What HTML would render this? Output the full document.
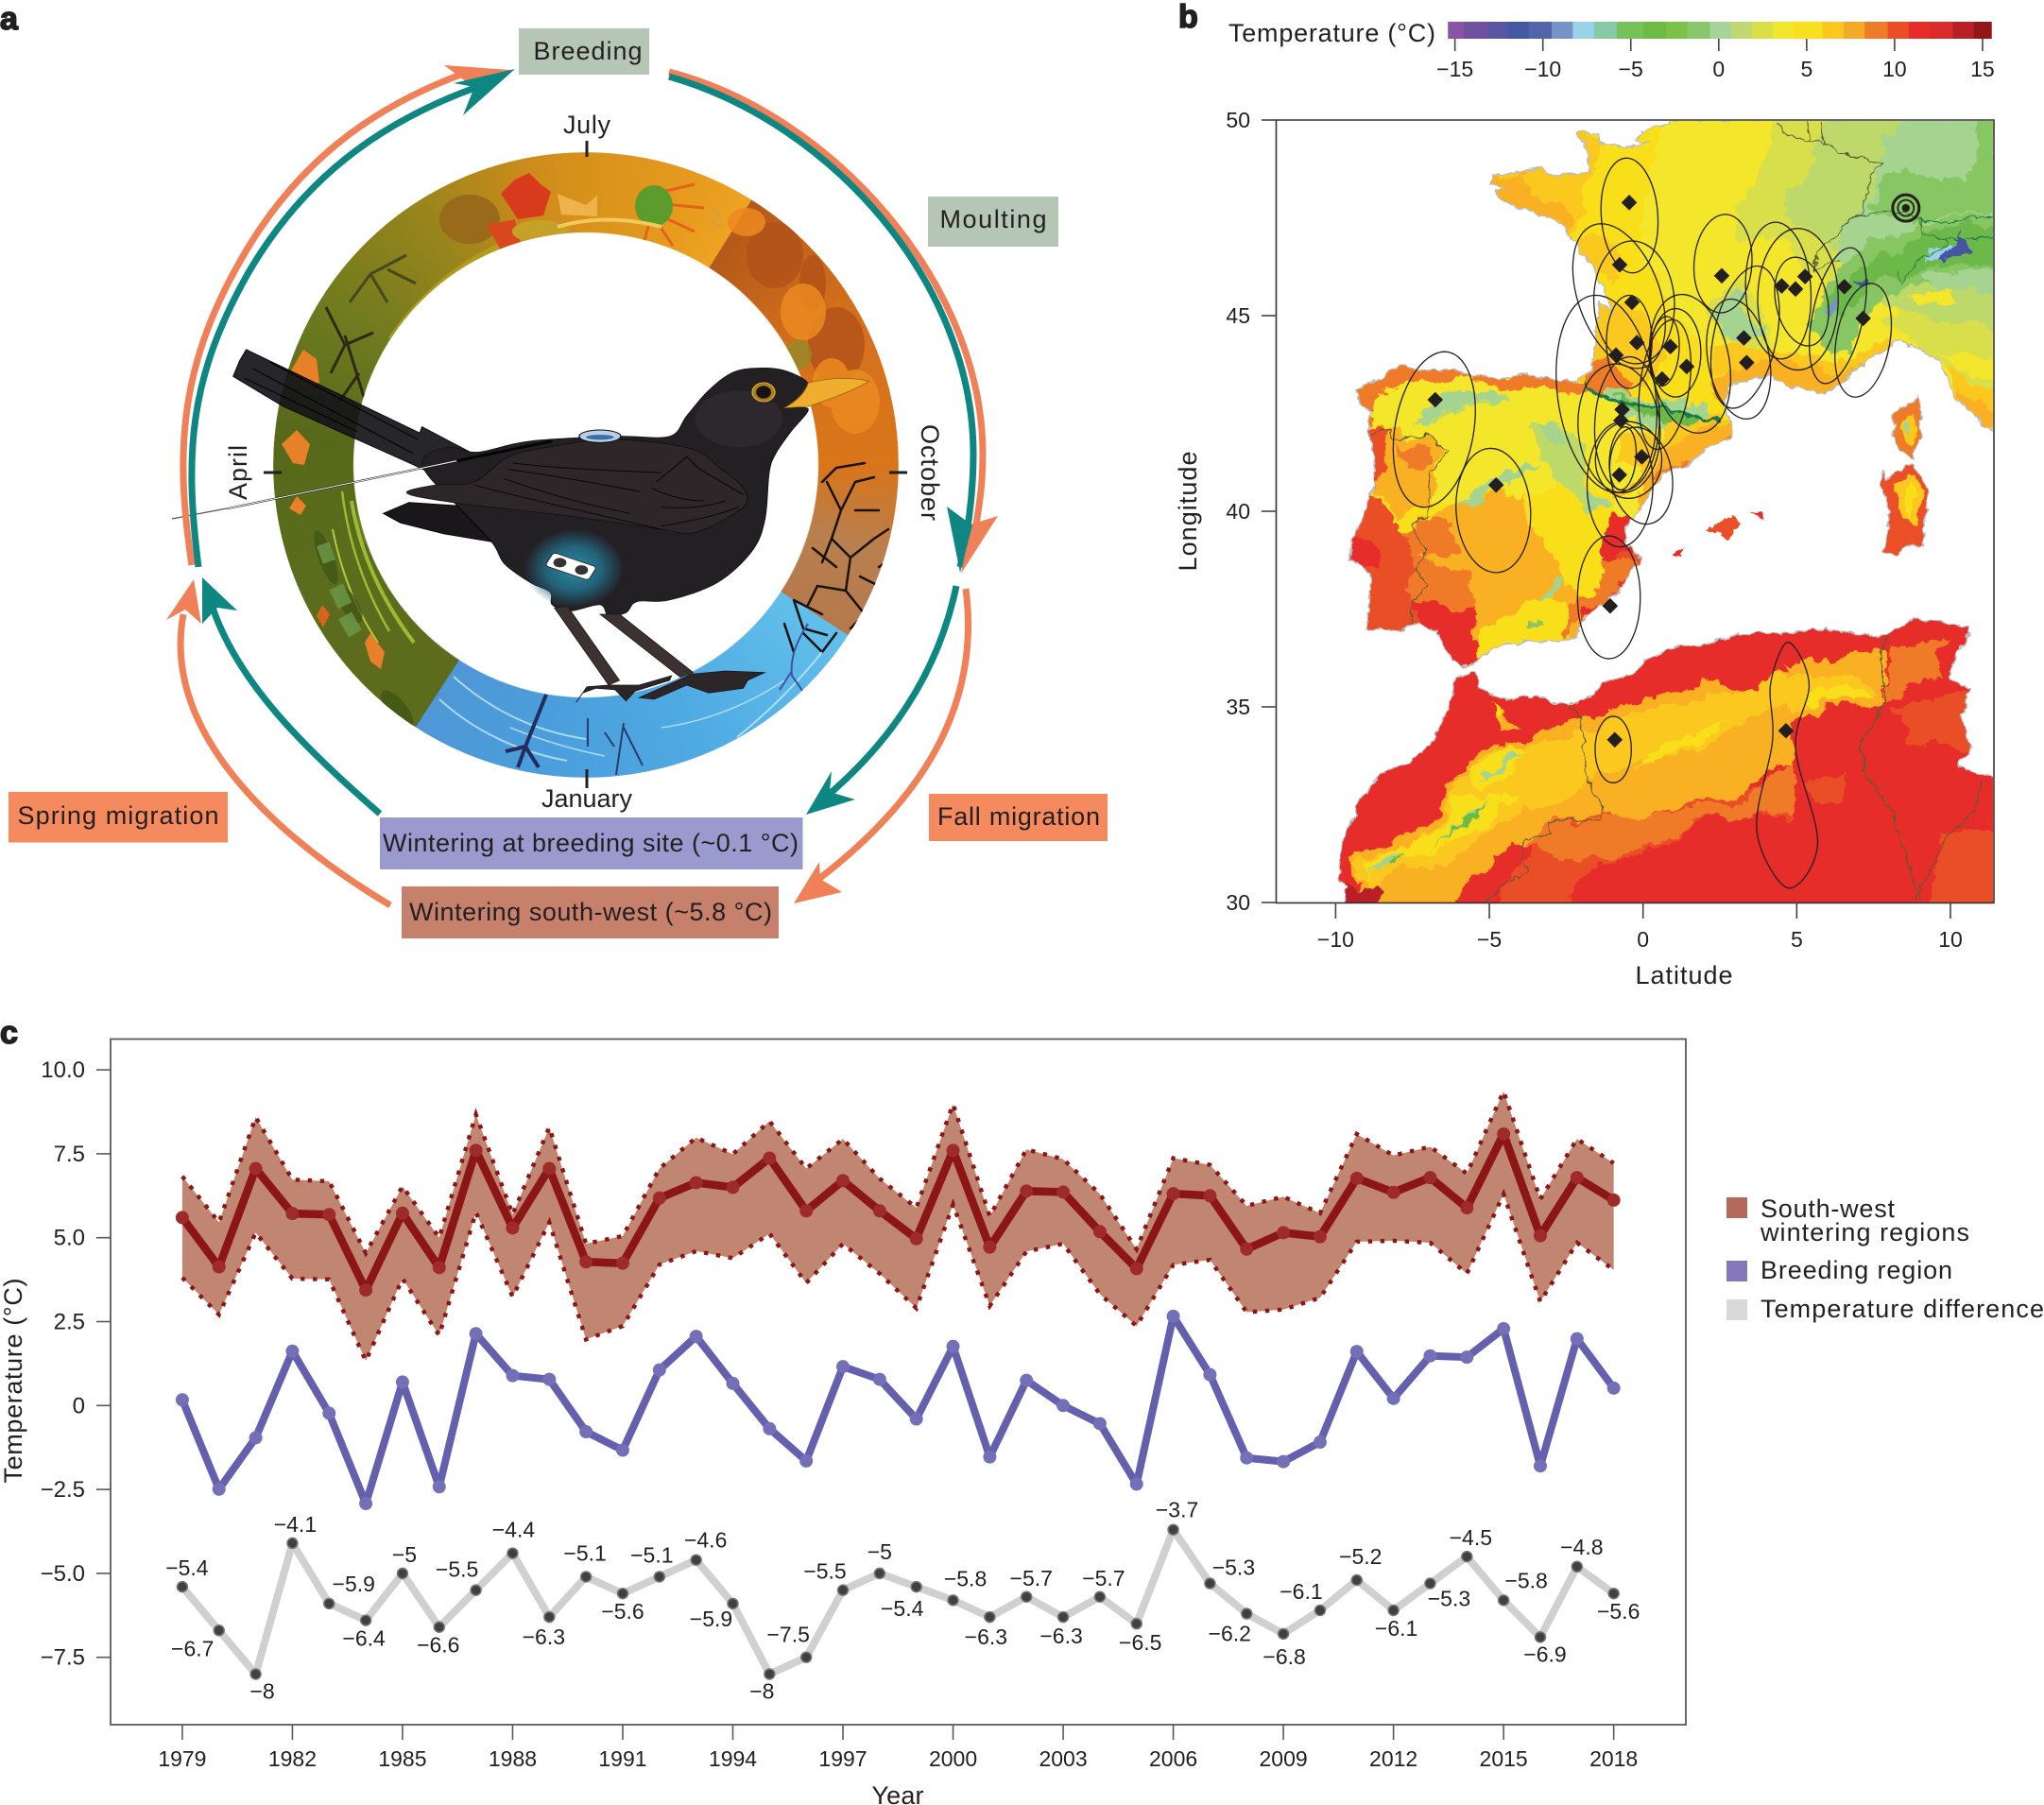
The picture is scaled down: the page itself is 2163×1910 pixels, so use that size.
<!DOCTYPE html>
<html lang="en">
<head>
<meta charset="utf-8">
<title>Blackbird migration and temperature</title>
<style>
html,body{margin:0;padding:0;background:#fff;}
#stage{position:relative;width:2163px;height:1910px;overflow:hidden;background:#fff;font-family:"Liberation Sans",sans-serif;}
#ring{position:absolute;left:289px;top:161px;width:662px;height:662px;border-radius:50%;
background:conic-gradient(from 0deg,#d8921c 0deg,#e69a1e 20deg,#eea322 32deg,#b4591a 32deg,#d4701c 60deg,#d9751a 90deg,#c47a3a 100deg,#b9804f 106deg,#b5794c 123deg,#62bfea 123deg,#4fa9e2 160deg,#4a9fdc 185deg,#4f97d6 213deg,#5d6c1c 213deg,#5a6d1c 250deg,#56691a 275deg,#6d7a1f 300deg,#9a851c 328deg,#cf8c1a 350deg,#d8921c 360deg);
-webkit-mask:radial-gradient(circle,transparent 245.5px,#000 246.5px,#000 330.5px,transparent 331.5px);
mask:radial-gradient(circle,transparent 245.5px,#000 246.5px,#000 330.5px,transparent 331.5px);}
svg{position:absolute;left:0;top:0;}
text{font-family:"Liberation Sans",sans-serif;fill:#231f20;}
.pl{font-size:34px;font-weight:700;stroke:#231f20;stroke-width:1.6px;}
.t27{font-size:27px;}
.t23{font-size:23px;}
.t24{font-size:24px;}
.dl{font-size:23px;}
</style>
</head>
<body>
<div id="stage">
<div id="ring"></div>
<svg id="fig" width="2163" height="1910" viewBox="0 0 2163 1910" xmlns="http://www.w3.org/2000/svg">
<defs>
<clipPath id="ringClip"><path clip-rule="evenodd" d="M289,492a331,331 0 1,0 662,0a331,331 0 1,0 -662,0ZM374,492a246,246 0 1,0 492,0a246,246 0 1,0 -492,0Z"/></clipPath>
<path id="euCoast" d="M1767,127L1767,130L1737,140L1733,148L1745,150L1728,157L1700,153L1693,153L1690,142L1670,141L1677,153L1683,170L1683,183L1663,185L1647,188L1630,177L1617,180L1600,183L1580,188L1580,195L1595,198L1583,203L1587,210L1600,217L1620,223L1640,228L1650,235L1660,243L1667,253L1672,267L1687,283L1693,297L1700,313L1710,333L1693,320L1690,347L1687,383L1685,388L1670,405L1647,403L1617,397L1587,402L1560,397L1543,393L1500,393L1487,387L1467,395L1465,400L1447,407L1435,415L1440,427L1452,435L1447,447L1450,460L1455,487L1455,513L1445,540L1432,573L1430,593L1442,600L1450,607L1450,633L1447,665L1480,667L1497,659L1523,667L1530,687L1547,707L1560,700L1577,687L1587,680L1613,678L1647,678L1667,675L1673,657L1693,640L1710,627L1728,602L1737,592L1720,577L1720,557L1733,540L1750,517L1760,500L1787,490L1807,473L1832,463L1833,450L1827,437L1825,417L1833,407L1853,400L1877,398L1880,403L1903,410L1930,417L1953,400L1973,383L1993,370L2010,359L2033,370L2053,383L2063,407L2070,420L2087,437L2110,458L2110,127Z"/>
<path id="afCoast" d="M1423,975L1425,940L1417,930L1420,893L1433,867L1437,850L1457,823L1490,807L1513,790L1530,760L1543,717L1560,712L1565,728L1590,742L1613,738L1633,738L1643,745L1667,745L1687,735L1695,723L1728,715L1740,700L1763,687L1807,682L1827,675L1853,670L1883,672L1931,666L1992,676L2023,656L2060,659L2083,666L2060,717L2085,730L2075,757L2085,791L2072,811L2125,828L2125,975Z"/>
<clipPath id="euClip"><use href="#euCoast"/></clipPath>
<clipPath id="afClip"><use href="#afCoast"/></clipPath>
<filter id="rough" filterUnits="userSpaceOnUse" x="1280" y="60" width="900" height="960" color-interpolation-filters="sRGB">
<feTurbulence type="fractalNoise" baseFrequency="0.028" numOctaves="4" seed="5"/>
<feDisplacementMap in="SourceGraphic" scale="30" xChannelSelector="R" yChannelSelector="G"/>
</filter>
<filter id="coastRough" filterUnits="userSpaceOnUse" x="1352" y="128" width="757" height="827" color-interpolation-filters="sRGB">
<feTurbulence type="fractalNoise" baseFrequency="0.09" numOctaves="3" seed="9"/>
<feDisplacementMap in="SourceGraphic" scale="9" xChannelSelector="R" yChannelSelector="G"/>
</filter>
<radialGradient id="tealGlow" cx="50%" cy="50%" r="50%"><stop offset="0" stop-color="#2b8ba3"/><stop offset=".55" stop-color="#23637a"/><stop offset="1" stop-color="#23637a" stop-opacity="0"/></radialGradient>
</defs>

<!-- panel a -->
<g id="panel-a">
<text class="pl" x="0" y="31">a</text>

<g clip-path="url(#ringClip)">
 <!-- inner lighter bands -->
 <g fill="none">
  <path d="M388,575Q375,490 410,400" stroke="#74891f" stroke-width="14" opacity=".6"/>
  <path d="M415,360Q470,280 560,250" stroke="#b9a41f" stroke-width="10" opacity=".7"/>
 </g>
 <!-- green streaks -->
 <g fill="none" stroke="#a9c83a" stroke-width="4" opacity=".85">
  <path d="M372,530Q385,610 438,680"/><path d="M362,520Q372,600 412,668" stroke-width="2.5"/><path d="M352,560Q366,630 400,680" stroke="#c4d94a" stroke-width="2"/>
 </g>
 <g fill="#3f5414" opacity=".75"><ellipse cx="345" cy="590" rx="8" ry="30" transform="rotate(-20 345 590)"/><ellipse cx="370" cy="640" rx="9" ry="22" transform="rotate(-30 370 640)"/><ellipse cx="420" cy="750" rx="10" ry="24" transform="rotate(-40 420 750)"/></g>
 <g fill="#6d9a4a" opacity=".8"><rect x="338" y="575" width="14" height="20" transform="rotate(-20 345 585)"/><rect x="352" y="620" width="16" height="22" transform="rotate(-25 360 630)"/><rect x="362" y="650" width="16" height="22" transform="rotate(-30 370 660)"/></g>
 <!-- left leaves -->
 <g fill="#e8802a">
  <polygon points="321,370 335,380 338,405 322,410 308,392"/>
  <polygon points="314,455 328,470 322,492 310,490 298,470"/>
  <polygon points="314,525 324,535 318,545 306,538"/>
  <polygon points="341,640 349,650 342,664 335,652" fill="#d9621d"/>
  <polygon points="392,670 407,690 403,708 392,700 386,680"/>
 </g>
 <!-- dark twigs -->
 <g fill="none" stroke="#2c2a12" stroke-width="3">
  <path d="M345,325L365,365L350,395M365,365L395,352M365,355L385,420M380,395L345,445"/>
  <path d="M370,320L392,290L430,270M392,290L410,320M410,285L440,300" stroke="#46491a"/>
 </g>
 <!-- top cluster -->
 <ellipse cx="497" cy="232" rx="32" ry="26" fill="#9a6a1b"/>
 <polygon points="530,205 545,190 560,183 572,195 583,203 575,228 548,232" fill="#d83a1d"/>
 <polygon points="515,238 545,232 552,262 530,265" fill="#d9481d"/>
 <ellipse cx="572" cy="245" rx="30" ry="12" fill="#c6a12a"/>
 <path d="M590,205l30,12l12,-10l0,22l-38,-2z" fill="#f0b24a"/>
 <g fill="none" stroke="#e2641c" stroke-width="3"><path d="M692,205L735,195M692,215L745,220M692,225L735,245M692,230L712,260M688,232L680,262"/></g>
 <ellipse cx="692" cy="218" rx="20" ry="22" fill="#5d9c2c"/>
 <path d="M590,240Q640,225 700,240" stroke="#f4c85a" stroke-width="4" fill="none"/>
 <path d="M752,220l10,6l-8,10l10,4" stroke="#d6a03a" stroke-width="3" fill="none"/>
 <!-- foliage -->
 <g fill="#b2501a" opacity=".8"><ellipse cx="820" cy="270" rx="30" ry="35"/><ellipse cx="885" cy="365" rx="30" ry="40"/><ellipse cx="860" cy="300" rx="14" ry="30"/></g>
 <g fill="#ec8a20" opacity=".85"><ellipse cx="850" cy="330" rx="24" ry="30"/><ellipse cx="905" cy="425" rx="26" ry="34"/><ellipse cx="880" cy="405" rx="20" ry="26"/><ellipse cx="790" cy="235" rx="20" ry="15"/></g>
 <ellipse cx="845" cy="375" rx="14" ry="16" fill="#8a8f2a" opacity=".7"/>
 <!-- bare tree -->
 <g fill="none" stroke="#1a120c" stroke-width="2.5" stroke-linecap="round">
  <path d="M875,510L890,540L905,510L925,505M890,540L880,570L900,590L925,570L940,560M880,570L870,595M900,590L895,625L915,650L925,630M895,625L865,620L855,640M915,650L900,665"/>
  <path d="M905,540L930,540M885,600L860,580M870,650L840,635M840,635L850,665L875,672M930,600L945,590M910,610L940,625M870,510L885,495L915,490"/>
  <path d="M850,670L870,690L885,670M830,660L840,690M895,690L905,660"/>
 </g>
 <!-- water -->
 <g fill="none" stroke="#cdebf8" stroke-width="2" opacity=".75">
  <path d="M480,716Q540,770 620,782"/><path d="M465,740Q520,790 600,805"/><path d="M780,780Q830,740 870,690"/><path d="M700,770Q770,760 830,720" stroke-width="1.5"/><path d="M540,770Q590,790 640,800" stroke-width="1.5"/>
 </g>
 <path d="M578,735L556,790M556,790L535,795M556,790L548,812M556,790L570,812" stroke="#232c5e" stroke-width="4" fill="none"/>
 <path d="M660,765L652,820M660,770L680,810M650,790L640,775M622,760L622,790" stroke="#2f3a6e" stroke-width="2" fill="none"/>
 <path d="M855,660Q835,690 838,715L852,735M838,710L825,730" stroke="#3c55a0" stroke-width="2" fill="none"/>
</g>

<g stroke="#231f20" stroke-width="3">
 <path d="M621,149V166M621,814V834M279,500H298M941,500H960"/>
</g>
<text class="t27" x="621" y="141" text-anchor="middle" textLength="50">July</text>
<text class="t27" x="621" y="854" text-anchor="middle" textLength="96">January</text>
<text class="t27" transform="translate(261,500) rotate(-90)" text-anchor="middle" textLength="58">April</text>
<text class="t27" transform="translate(975,500) rotate(90)" text-anchor="middle" textLength="102">October</text>

<!-- bird -->
<g transform="translate(240,350) scale(.4592,.3333)">
 <polygon points="45,60 30,95 15,145 130,240 300,345 430,425 475,455 560,385 450,305 445,325" fill="#17161a" opacity=".93" stroke="#000" stroke-width="3"/>
 <path d="M60,120L430,390M40,150L300,320M100,100L440,345" stroke="#000" stroke-width="3" fill="none"/>
 <path id="birdBody" fill="#232024" stroke="#111" stroke-width="2"/>
 <ellipse cx="1180" cy="280" rx="100" ry="90" fill="#332f33" opacity=".6"/>
 <polygon points="360,580 420,545 530,555 610,670 500,645 400,610" fill="#191719" stroke="#000" stroke-width="2"/>
 <path id="birdWing" fill="#2d2729" stroke="#0d0b0c" stroke-width="2"/>
 <g fill="none" stroke="#0a0808" stroke-width="3">
  <path d="M660,420Q780,440 1000,450M650,440Q800,470 950,510M640,470Q780,540 930,580M570,490Q650,520 1000,630M990,480L1060,400L1090,440L1190,520M980,500Q1040,540 1100,540M1000,560Q1080,570 1150,540M1000,620Q1100,600 1180,560"/>
 </g>
 <ellipse cx="800" cy="755" rx="115" ry="125" fill="url(#tealGlow)"/>
 <g transform="rotate(25 793 748)">
  <rect x="738" y="725" width="110" height="46" rx="8" fill="#fff" stroke="#111" stroke-width="2"/>
  <circle cx="765" cy="748" r="15" fill="#333"/><circle cx="820" cy="748" r="15" fill="#333"/>
 </g>
 <polygon points="755,880 785,875 905,1110 880,1125" fill="#3d3232" stroke="#1c1617" stroke-width="2"/>
 <polygon points="860,900 905,900 1075,1085 1045,1100" fill="#3d3232" stroke="#1c1617" stroke-width="2"/>
 <path d="M805,1180L830,1130L880,1125L950,1125L1025,1095L1020,1110L940,1145L920,1175L895,1140L850,1135L820,1150Z" fill="#2c2628" stroke="#111" stroke-width="2"/>
 <path d="M950,1165L1040,1110L1070,1090L1150,1080L1240,1085L1200,1110L1190,1135L1110,1150L1060,1125L985,1170Z" fill="#2c2628" stroke="#111" stroke-width="2"/>
 <path d="M1340,165Q1420,140 1480,160Q1440,195 1340,240L1285,245Q1330,210 1340,165Z" fill="#f0ae2e" stroke="#8a5a10" stroke-width="2"/>
 <ellipse cx="1237" cy="195" rx="26" ry="30" fill="#a67c1e" stroke="#e0a830" stroke-width="3"/>
 <ellipse cx="1237" cy="195" rx="17" ry="20" fill="#141214"/>
 <ellipse cx="860" cy="335" rx="48" ry="20" fill="#b6cfe6" stroke="#111" stroke-width="3"/>
 <ellipse cx="860" cy="338" rx="32" ry="8" fill="#3c6ea6"/>
 <path d="M530,413L0,565" stroke="#111" stroke-width="6"/>
 <path d="M530,413L0,565" stroke="#fff" stroke-width="3"/>
 <path d="M530,413L750,350" stroke="#050505" stroke-width="9"/>
</g>
<path d="M240,538L182,549" stroke="#555" stroke-width="1.2"/>

<!-- arrows -->
<g fill="none" stroke-width="7">
 <path d="M203,598C185,480 190,390 252,280C310,175 390,115 490,78" stroke="#f08057"/>
 <path d="M210,600C195,480 200,400 262,290C320,190 400,130 505,92" stroke="#0e8783"/>
 <path d="M708,76C880,120 1040,300 1040,480C1040,510 1037,530 1033,555" stroke="#f08057"/>
 <path d="M708,81C880,130 1030,300 1030,480C1030,520 1025,560 1016,600" stroke="#0e8783"/>
 <path d="M1012,620Q985,750 872,845" stroke="#0e8783"/>
 <path d="M1022,623C1040,760 960,860 860,935" stroke="#f08057"/>
 <path d="M402,861C320,790 250,720 224,640" stroke="#0e8783"/>
 <path d="M413,958C300,890 170,780 194,650" stroke="#f08057"/>
</g>
<g>
 <polygon points="470,69 540,74 498,90" fill="#f08057"/>
 <polygon points="545,73 490,122 502,92 480,88" fill="#0e8783"/>
 <polygon points="1056,546 1017,607 1027,555" fill="#f08057"/>
 <polygon points="1016,606 1002,536 1029,556" fill="#0e8783"/>
 <polygon points="853,862 880,816 878,838 905,846" fill="#0e8783"/>
 <polygon points="840,956 867,912 868,930 891,944" fill="#f08057"/>
 <polygon points="214,611 214,660 230,643 251,646" fill="#0e8783"/>
 <polygon points="205,613 176,656 196,645 213,660" fill="#f08057"/>
</g>
<g>
 <rect x="549" y="30" width="138" height="49" fill="#b5c7b4"/>
 <text class="t27" x="622" y="63" text-anchor="middle" textLength="115">Breeding</text>
 <rect x="982" y="208" width="138" height="53" fill="#b5c7b4"/>
 <text class="t27" x="1051" y="241" text-anchor="middle" textLength="113">Moulting</text>
 <rect x="9" y="838" width="232" height="53.500" fill="#f58a5f"/>
 <text class="t27" x="125" y="872" text-anchor="middle" textLength="213">Spring migration</text>
 <rect x="983" y="840" width="189" height="50" fill="#f58a5f"/>
 <text class="t27" x="1078" y="873" text-anchor="middle" textLength="172">Fall migration</text>
 <rect x="402" y="865" width="447.500" height="55" fill="#9a9acf"/>
 <text class="t27" x="625" y="901" text-anchor="middle" textLength="440">Wintering at breeding site (~0.1 °C)</text>
 <rect x="425" y="938" width="399" height="55" fill="#c7806b"/>
 <text class="t27" x="625" y="974" text-anchor="middle" textLength="384">Wintering south-west (~5.8 °C)</text>
</g>
</g>

<!-- panel b -->
<g id="panel-b">
<text class="pl" x="1247" y="29">b</text>
<text class="t27" x="1300" y="44" textLength="219">Temperature (°C)</text>
<g id="colorbar"></g>

<g>
<g filter="url(#coastRough)">
 <use href="#euCoast" fill="none" stroke="#bdbdbd" stroke-width="3"/>
 <use href="#afCoast" fill="none" stroke="#bdbdbd" stroke-width="3"/>
 <g clip-path="url(#euClip)">
 <g filter="url(#rough)">
  <rect x="1300" y="90" width="860" height="640" fill="#f3e62b"/>
  <g transform="translate(1400,120) scale(.33333)">
   <polygon fill="#f9df1a" points="500,100 1100,20 1000,300 1080,600 1250,800 1300,900 1270,1000 1000,900 700,700 500,400"/>
   <polygon fill="#fbc81f" points="480,180 800,30 880,100 860,200 800,330 790,400 650,400 480,320"/>
   <polygon fill="#f9b022" points="500,200 640,190 700,280 780,310 780,370 640,320 500,260"/>
   <polygon fill="#fbc81f" points="830,560 940,600 1040,640 1080,780 1050,860 930,860 810,830"/>
   <polygon fill="#fbc81f" points="780,400 850,390 960,480 900,520 800,460"/>
   <polygon fill="#ef7b28" points="810,850 920,810 1010,850 960,880 860,880"/>
   <polygon fill="#f9df1a" points="200,1200 800,1100 950,1300 1030,1700 60,1700"/>
   <polygon fill="#f3e62b" points="360,900 800,900 850,1100 700,1200 400,1230 240,1240 180,1060"/>
   <polygon fill="#f9b022" points="280,1300 420,1240 640,1210 660,1300 720,1420 800,1500 900,1700 200,1700"/>
   <polygon fill="#ef7b28" points="270,1310 330,1280 420,1300 430,1500 500,1700 130,1700"/>
   <polygon fill="#e94e27" points="60,1430 120,1250 150,1180 210,1260 275,1310 300,1500 330,1700 80,1700"/>
   <polygon fill="#e62d29" points="60,1430 90,1340 170,1380 170,1500 150,1700 60,1700"/>
   <polygon fill="#f9b022" points="130,1000 215,1020 340,1040 395,1075 340,1130 340,1250 230,1270 170,1180 130,1080"/>
   <polygon fill="#ef7b28" points="250,1050 330,1060 330,1130 270,1130"/>
   <polygon fill="#e94e27" points="120,1000 200,1020 190,1180 140,1180"/>
   <polygon fill="#ef7b28" points="80,885 200,800 260,780 300,800 440,800 560,820 650,810 740,830 820,840 900,790 960,860 1000,900 900,880 820,880 740,880 650,860 560,870 450,845 300,850 200,880 150,950 160,1000 120,990"/>
   <polygon fill="#bcd96a" points="640,1000 750,980 830,1060 830,1200 900,1250 850,1290 780,1200 700,1100"/>
   <polygon fill="#a5d491" points="680,990 750,1000 790,1050 700,1030"/>
   <polygon fill="#a5d491" points="800,1180 850,1190 900,1260 860,1280"/>
   <polygon fill="#a5d491" points="440,1240 640,1110 680,1120 500,1240"/>
   <polygon fill="#bcd96a" points="300,990 380,900 590,880 590,910 430,940 360,1010"/>
   <polygon fill="#a5d491" points="380,895 540,880 590,900 430,925 340,1000 290,1000"/>
   <polygon fill="#a5d491" points="880,880 1040,900 1220,940 1250,985 1130,1010 1000,980"/>
   <polygon fill="#6cb94a" points="920,905 1040,915 1200,950 1200,970 1100,985 1000,950"/>
   <polygon fill="#f9b022" points="900,1230 1040,1180 1060,1130 1000,1180 920,1200"/>
  </g>
  <g transform="translate(1620,120) scale(.33333)">
   <polygon fill="#d8df4a" points="660,300 730,200 800,-20 1560,-20 1560,1040 1300,770 1170,700 1120,660 1050,640 900,500 800,400 660,400"/>
   <polygon fill="#f3e62b" points="1000,610 1140,560 1150,650 1100,720 1000,720"/>
   <polygon fill="#d8df4a" points="560,590 640,540 720,600 740,740 620,740"/>
   <polygon fill="#bcd96a" points="800,300 880,180 950,-20 1560,-20 1560,720 1300,650 1170,650 1000,500 880,350"/>
   <polygon fill="#a5d491" points="590,620 640,560 730,680 690,740 620,720"/>
   <polygon fill="#a5d491" points="1100,130 1200,-20 1560,-20 1560,330 1240,340 1120,440 1000,510 930,470 1000,340 1060,330"/>
   <polygon fill="#88c563" points="1080,300 1130,200 1200,180 1300,230 1400,150 1430,-20 1560,-20 1560,330 1100,330"/>
   <polygon fill="#a5d491" points="1270,120 1400,100 1380,180 1300,200"/>
   <polygon fill="#88c563" points="880,680 1000,450 1250,340 1560,330 1560,520 1300,540 1180,530 1050,680 1000,770 930,740"/>
   <polygon fill="#6cb94a" points="930,620 1060,470 1250,370 1480,370 1480,480 1280,490 1100,530 1000,640"/>
   <polygon fill="#a5d491" points="1230,510 1340,500 1470,500 1560,500 1560,570 1340,560"/>
   <polygon fill="#f3e62b" points="1180,560 1350,560 1340,590 1230,610"/>
   <polygon fill="#4754a3" points="1270,440 1370,390 1390,440 1300,470"/>
   <polygon fill="#9bd3ea" points="1270,430 1320,400 1300,470 1260,470"/>
   <polygon fill="#4754a3" points="1040,520 1090,510 1090,535 1040,540"/>
   <polygon fill="#7694c8" points="930,640 985,580 1000,600 950,660"/>
   <polygon fill="#fbc81f" points="560,760 700,740 800,770 1000,790 1150,700 1150,730 1000,830 800,820 640,800 580,860"/>
   <polygon fill="#f9b022" points="580,880 640,800 780,790 900,810 1000,830 1090,770 1100,900 1000,920 900,950 640,950"/>
   <polygon fill="#f3e62b" points="1300,740 1560,800 1560,870 1350,800"/>
   <polygon fill="#fbc81f" points="1300,780 1400,850 1560,900 1560,1060 1400,970 1320,880"/>
   <polygon fill="#f9b022" points="1340,870 1400,920 1560,970 1560,1060 1400,970"/>
   <polygon fill="#fbc81f" points="280,1020 380,1000 400,1100 350,1150 290,1100"/>
   <polygon fill="#fbc81f" points="440,980 680,960 690,1040 450,1160 370,1190"/>
   <polygon fill="#f9b022" points="500,1010 680,980 680,1080 540,1120 440,1160 400,1210 370,1260 330,1200 400,1110"/>
   <polygon fill="#ef7b28" points="380,1180 440,1140 680,1060 660,1020 540,1085 400,1140"/>
   <polygon fill="#e62d29" points="250,1290 330,1270 400,1420 260,1520 240,1400"/>
   <polygon fill="#e94e27" points="300,1400 400,1400 320,1560 230,1530"/>
  </g>
  <g transform="translate(1400,600) scale(.33333)">
   <polygon fill="#f9b022" points="300,-30 720,-30 780,60 820,160 800,280 470,280 400,150"/>
   <polygon fill="#ef7b28" points="270,0 470,0 470,150 380,170 260,130"/>
   <polygon fill="#e62d29" points="385,180 470,110 470,230 540,280 440,360 350,220"/>
   <polygon fill="#e94e27" points="100,0 290,0 290,230 100,230"/>
   <polygon fill="#e62d29" points="290,110 470,150 400,260 285,220"/>
   <polygon fill="#f9df1a" points="480,280 650,250 790,230 780,120 700,90 600,150 500,200"/>
   <polygon fill="#a5d491" points="710,90 760,20 775,50 730,100"/>
   <polygon fill="#88c563" points="660,190 725,185 720,200 660,205"/>
   <polygon fill="#ef7b28" points="760,260 820,160 880,110 1000,-30 900,-10 820,80 770,170"/>
   <polygon fill="#e62d29" points="820,190 880,120 960,50 1000,0 900,60 830,130"/>
  </g>
 </g>
 <g fill="none" stroke="#177a4f" stroke-width="3"><path d="M1675,405L1687,417L1720,427L1753,430L1793,442L1820,445"/></g>
 </g>
 <g clip-path="url(#afClip)">
 <g filter="url(#rough)">
  <rect x="1340" y="620" width="820" height="400" fill="#e62d29"/>
  <g transform="translate(1400,600) scale(.33333)">
   <polygon fill="#e94e27" points="780,1180 800,1000 860,960 1000,920 1250,790 1500,790 1500,700 880,700 640,900 520,1180"/>
   <polygon fill="#ef7b28" points="640,870 720,800 860,810 950,800 1100,780 1200,760 1400,700 1500,620 1500,780 1250,790 1000,900 860,950 700,900"/>
   <polygon fill="#f9b022" points="130,1180 300,1180 520,950 640,870 720,800 880,800 1000,800 1250,730 1500,620 1500,330 1350,380 1200,370 1050,400 850,470 700,520 650,560 560,570 450,620 400,690 350,790 250,870 100,930"/>
   <polygon fill="#fbc81f" points="140,1010 260,960 420,950 500,830 650,770 760,730 830,680 1000,620 1150,600 1300,520 1500,410 1500,340 1370,370 1200,420 1100,430 880,490 720,560 640,580 550,590 470,640 420,680 370,800 270,890 100,950"/>
   <polygon fill="#f9df1a" points="140,990 230,930 380,890 500,810 620,740 420,740 360,830 260,890 150,950"/>
   <polygon fill="#f9df1a" points="480,640 600,570 640,590 590,650 500,720 470,700"/>
   <polygon fill="#f9df1a" points="1000,650 1130,590 1290,500 1180,520 1090,560"/>
   <polygon fill="#a5d491" points="340,900 440,800 540,745 480,770 400,830"/>
   <polygon fill="#6cb94a" points="350,885 470,800 530,752 460,785 400,840"/>
   <polygon fill="#a5d491" points="140,975 210,935 270,910 240,940"/>
   <polygon fill="#6cb94a" points="228,945 270,915 265,925 240,950"/>
   <polygon fill="#a5d491" points="490,690 560,640 630,600 600,590 520,650"/>
   <polygon fill="#b91f27" points="50,1180 60,1010 150,1000 170,1010 130,1180"/>
   <polygon fill="#f9b022" points="540,450 620,470 650,500 570,530"/>
   <polygon fill="#f9df1a" points="520,440 570,470 550,480"/>
  </g>
  <g transform="translate(1200,0) scale(.6143,.6761)">
   <polygon fill="#f9b022" points="1130,1040 1290,1020 1300,1105 1180,1110 1130,1130"/>
   <polygon fill="#fbc81f" points="1120,1060 1250,1060 1290,1085 1180,1100 1130,1120"/>
   <polygon fill="#f9df1a" points="1150,1085 1260,1080 1280,1095 1170,1105"/>
   <polygon fill="#ef7b28" points="1300,1010 1400,1000 1380,1060 1300,1100"/>
   <polygon fill="#e94e27" points="1350,1480 1400,1300 1520,1300 1520,1480"/>
   <polygon fill="#e94e27" points="1160,1230 1220,1200 1220,1250 1180,1260"/>
   <polygon fill="#e94e27" points="1300,1110 1460,1070 1460,1180 1340,1160"/>
  </g>
 </g>
 </g>
 <g transform="translate(1620,120) scale(.33333)">
  <polygon fill="#ef7b28" stroke="#bdbdbd" stroke-width="4" points="1225,895 1240,960 1235,1030 1215,1095 1170,1070 1150,1025 1160,990 1145,970 1170,935 1210,925"/>
  <polygon fill="#fbc81f" points="1215,950 1225,1000 1205,1060 1175,1020 1175,980"/>
  <polygon fill="#a5d491" points="1185,975 1205,990 1195,1030 1180,1000"/>
  <polygon fill="#ea4f28" stroke="#bdbdbd" stroke-width="4" points="1115,1135 1130,1160 1210,1110 1245,1160 1265,1200 1250,1300 1245,1375 1195,1370 1160,1405 1120,1385 1130,1340 1140,1280 1110,1190"/>
  <polygon fill="#fbc81f" points="1210,1140 1250,1200 1220,1310 1170,1260 1150,1180"/>
  <polygon fill="#f9df1a" points="1205,1160 1225,1200 1200,1290 1185,1230"/>
  <polygon fill="#ea4f28" points="555,1320 590,1300 640,1275 660,1300 655,1320 625,1355 600,1335"/>
  <polygon fill="#e62d29" points="695,1265 730,1260 745,1290"/>
  <polygon fill="#e62d29" points="450,1400 485,1380 470,1410"/>
 </g>
 <g fill="none" stroke="#5e5a30" stroke-width="1.2">
  <g transform="translate(1620,120) scale(.33333)" stroke-width="3.5">
   <path d="M785,28L800,60L860,85L885,85L880,30M885,85L930,95L915,30M930,90L980,125L1040,140L1110,152L1080,200L1050,320L990,350L990,370L910,440L900,500L975,465"/>
   <path d="M1050,320L1130,315L1190,310L1240,335L1240,385L1320,400L1320,420L1220,470L1180,540L1160,500" stroke="#3d7a3a"/>
   <path d="M1240,335L1300,350L1470,322M1320,400L1470,395" stroke="#1a6e50"/>
  </g>
  <g transform="translate(1400,120) scale(.33333)" stroke-width="3.5">
   <path d="M145,1025L210,1000L220,1035L340,1020L365,1050L400,1070L340,1140L340,1240L330,1280L275,1310L325,1380L295,1450L330,1500"/>
  </g>
  <g transform="translate(1400,600) scale(.33333)" stroke-width="3.5">
   <path d="M295,10L330,60L280,120L285,178"/>
   <path d="M780,440L820,480L825,520L830,620L850,700L890,760L875,805L750,803L715,810L720,850L640,865L630,925L650,960L630,990L580,1000L510,1065"/>
  </g>
  <g transform="translate(1200,0) scale(.6143,.6761)" stroke-width="2">
   <path d="M1300,995L1285,1020L1295,1100L1250,1160L1260,1215L1300,1260L1355,1410"/>
   <path d="M1460,1225L1450,1270L1400,1310L1345,1410"/>
  </g>
 </g>
</g>
</g>
<g id="mapMarks"></g>
<g id="mapAxes"></g>
</g>

<!-- panel c -->
<g id="panel-c">
<text class="pl" x="0" y="1104">c</text>
<rect x="117" y="1099.500" width="1667" height="725.500" fill="none" stroke="#58595b" stroke-width="1.8"/>
<g id="lineChart"></g>
<text class="t27" transform="translate(23,1461) rotate(-90)" text-anchor="middle" textLength="217">Temperature (°C)</text>
<text class="t27" x="950" y="1909" text-anchor="middle" textLength="55">Year</text>
<g>
 <g>
  <rect x="1827" y="1267" width="22" height="22" fill="#b5695a"/>
  <text class="t27" x="1863" y="1288" textLength="142">South-west</text>
  <text class="t27" x="1863" y="1313" textLength="221">wintering regions</text>
 </g>
 <g>
  <rect x="1827" y="1334" width="22" height="22" fill="#8478bb"/>
  <text class="t27" x="1863" y="1353" textLength="203">Breeding region</text>
 </g>
 <g>
  <rect x="1827" y="1375" width="22" height="22" fill="#d9d9d9"/>
  <text class="t27" x="1863" y="1394" textLength="300">Temperature difference</text>
 </g>
</g>
</g>
</svg>
</div>
<script>
/* ---- panel c data ---- */
const years = [1979,1980,1981,1982,1983,1984,1985,1986,1987,1988,1989,1990,1991,1992,1993,1994,1995,1996,1997,1998,1999,2000,2001,2002,2003,2004,2005,2006,2007,2008,2009,2010,2011,2012,2013,2014,2015,2016,2017,2018];
const swMean = [5.6,4.13,7.06,5.72,5.69,3.44,5.73,4.11,7.6,5.29,7.06,4.28,4.24,6.18,6.64,6.5,7.37,5.8,6.7,5.8,4.97,7.6,4.72,6.39,6.36,5.18,4.08,6.31,6.25,4.66,5.15,5.03,6.77,6.35,6.79,5.89,8.09,5.06,6.79,6.12];
const swUpper = [6.83,5.46,8.59,6.73,6.68,4.54,6.53,5.0,8.67,5.69,8.29,4.82,5.05,7.06,7.98,7.49,8.47,7.06,7.94,6.76,5.89,8.98,5.64,7.63,7.34,6.3,4.66,7.37,7.17,5.95,6.22,5.73,8.09,7.45,7.71,6.91,9.36,6.15,7.94,7.22];
const swLower = [3.81,2.71,5.15,3.78,3.76,1.33,3.78,2.09,5.76,3.24,5.46,1.97,2.37,4.2,4.6,4.39,5.12,3.65,4.82,3.93,2.9,5.99,2.97,4.59,4.82,3.32,2.37,4.19,4.34,2.78,2.86,3.21,4.88,4.91,4.85,3.93,6.3,3.09,4.85,4.04];
const breeding = [0.17,-2.49,-0.96,1.62,-0.23,-2.92,0.7,-2.42,2.14,0.89,0.78,-0.78,-1.33,1.06,2.06,0.66,-0.69,-1.65,1.16,0.78,-0.4,1.76,-1.53,0.75,0,-0.54,-2.34,2.66,0.92,-1.56,-1.67,-1.09,1.61,0.21,1.48,1.44,2.29,-1.8,1.99,0.52];
const difference = [-5.4,-6.7,-8,-4.1,-5.9,-6.4,-5,-6.6,-5.5,-4.4,-6.3,-5.1,-5.6,-5.1,-4.6,-5.9,-8,-7.5,-5.5,-5,-5.4,-5.8,-6.3,-5.7,-6.3,-5.7,-6.5,-3.7,-5.3,-6.2,-6.8,-6.1,-5.2,-6.1,-5.3,-4.5,-5.8,-6.9,-4.8,-5.6];
const yTicks = [10,7.5,5,2.5,0,-2.5,-5,-7.5];
const yTickLabels = ['10.0','7.5','5.0','2.5','0','\u22122.5','\u22125.0','\u22127.5'];
/* label nudges are layout relative to each point, not data */
const labelNudgeX = [5,-28,7,3,26,-2,2,-1,-20,1,-6,-1,0,-8,10,-23,-8,-19,-19,0,-15,13,-4,5,-2,4,4,4,25,-18,1,-20,4,3,20,4,24,5,5,5];
const labelNudgeY = [-18,21,20,-18,-19,21,-18,21,-20,-23,23,-23,21,-21,-19,18,20,-22,-18,-21,25,-21,23,-18,22,-18,22,-19,-15,23,26,-18,-23,21,18,-18,-19,20,-19,21];

/* ---- panel b data ---- */
const cbEdges = [-15.4,-14.5,-13.2,-12,-10.8,-9.5,-8.3,-7.1,-5.8,-4.3,-3,-1.8,-0.5,0.7,1.9,3.1,4.3,5.9,7.1,8.3,9.6,10.8,12,13.3,14.5,15.5];
const cbColors = ['#8b55a3','#70519f','#5a55a3','#4357a5','#5265ab','#7694c8','#9bd3ea','#86cba5','#77c15b','#6cbb45','#7cc14a','#8ac66b','#a8d49b','#bfd970','#dadf46','#f2e62d','#f8e01c','#fcc721','#f5a929','#ef7b28','#e94e27','#e62d29','#dd2a2b','#b91f27','#931518'];
const cbTicks = [-15,-10,-5,0,5,10,15];
const lonTicks = [-10,-5,0,5,10];
const latTicks = [50,45,40,35,30];
const siteLon = [-0.45,-0.76,-0.36,-0.2,-0.88,0.89,1.42,0.62,-0.68,-0.72,-0.04,-0.77,2.56,3.28,3.37,4.51,4.96,5.27,6.55,7.16,-6.76,-4.78,-1.07,-0.92,4.65];
const siteLat = [47.89,46.3,45.34,44.31,43.99,44.21,43.7,43.38,42.6,42.32,41.39,40.93,46.02,44.43,43.8,45.76,45.68,46.0,45.74,44.93,42.85,40.67,37.58,34.16,34.39];
const rangeLon = [-0.44,-0.78,-0.29,-1.19,-0.45,0.69,1.06,1.53,-0.78,-0.52,0.71,-0.75,-0.47,-0.06,-0.66,2.6,3.32,3.11,4.4,5.04,5.16,6.34,7.16,-6.79,-4.87,-1.11,-0.97];
const rangeLat = [47.56,45.5,45.34,43.0,44.33,44.09,44.05,43.77,42.12,42.24,43.24,40.68,41.31,40.91,41.35,46.33,44.45,43.89,45.64,45.42,45.36,45.0,44.37,42.09,40.02,37.8,33.91];
const rangeLonRadius = [0.92,1.33,1.31,1.59,0.74,0.48,0.82,1.28,1.33,1.05,0.8,1.07,1.08,1.0,0.43,0.94,1.02,1.0,1.06,1.31,0.84,0.82,0.87,1.28,1.21,1.02,0.59];
const rangeLatRadius = [1.47,1.93,1.57,2.54,1.19,0.89,1.13,1.79,1.65,1.71,1.67,1.59,0.98,1.25,0.81,1.26,1.85,1.55,1.75,1.81,1.15,1.77,1.47,2.01,1.59,1.57,0.85];
const rangeTilt = [-4,-20,-3,-8,0,5,0,-10,-5,3,8,0,0,-10,5,4,12,-10,-3,0,-12,12,10,10,-4,0,0];
const lobedRangeLon = [4.72,5.4,4.96,5.68,4.72,3.7,4.21,4.15];
const lobedRangeLat = [36.65,35.59,33.96,31.51,30.37,31.84,34.12,35.59];
const originLon = 8.55;
const originLat = 47.75;

const NS = 'http://www.w3.org/2000/svg';
function mk(tag, attrs, parent, txt){
  const el = document.createElementNS(NS, tag);
  for (const k in attrs) el.setAttribute(k, attrs[k]);
  if (txt !== undefined) el.textContent = txt;
  parent.appendChild(el);
  return el;
}
const fmt = v => String(v).replace('-', '\u2212');
function smoothClosed(pts){
  const n = pts.length;
  let d = 'M' + pts[0][0] + ',' + pts[0][1];
  for (let i = 0; i < n; i++) {
    const p0 = pts[(i + n - 1) % n], p1 = pts[i], p2 = pts[(i + 1) % n], p3 = pts[(i + 2) % n];
    d += 'C' + (p1[0] + (p2[0] - p0[0]) / 6) + ',' + (p1[1] + (p2[1] - p0[1]) / 6) + ' ' + (p2[0] - (p3[0] - p1[0]) / 6) + ',' + (p2[1] - (p3[1] - p1[1]) / 6) + ' ' + p2[0] + ',' + p2[1];
  }
  return d + 'Z';
}
/* illustration outlines */
document.getElementById('birdBody').setAttribute('d', smoothClosed([[1335,160],[1290,128],[1240,118],[1170,130],[1110,190],[1060,270],[1020,335],[900,335],[700,350],[580,385],[520,370],[470,385],[450,420],[470,470],[520,540],[610,670],[640,740],[700,800],[745,830],[750,870],[790,890],[860,870],[880,905],[920,895],[945,860],[1020,855],[1130,800],[1210,700],[1240,600],[1250,450],[1265,390],[1300,320],[1340,250],[1300,240],[1335,190]]));
document.getElementById('birdWing').setAttribute('d', smoothClosed([[415,515],[480,490],[570,480],[650,400],[760,365],[900,345],[1070,375],[1140,440],[1190,500],[1190,560],[1080,640],[1000,630],[800,590],[520,545]]));

/* colorbar */
const cbX = v => 1818.8 + v * 18.61;
const cb = document.getElementById('colorbar');
cbColors.forEach((c, i) => {
  const el = mk('rect', {x: cbX(cbEdges[i]), y: 23, width: cbX(cbEdges[i+1]) - cbX(cbEdges[i]) + 0.5, height: 18, fill: c}, cb);
  
  
});
cbTicks.forEach(v => {
  const t = mk('line', {x1: cbX(v), x2: cbX(v), y1: 41, y2: 54, stroke: '#444', 'stroke-width': 1.6}, cb);
  
  
  const l = mk('text', {x: cbX(v), y: 81, 'text-anchor': 'middle', class: 't23'}, cb, fmt(v));
  
  
});

/* map axes */
const lonX = v => 1738.7 + v * 32.53;
const latY = v => 127 + (50 - v) * 41.4;
const ma = document.getElementById('mapAxes');
const mapFrame = mk('path', {d: 'M1350.5,127H2110V955.4H1350.5Z', fill: 'none', stroke: '#333', 'stroke-width': 1.6}, ma);


lonTicks.forEach(v => {
  const t = mk('line', {x1: lonX(v), x2: lonX(v), y1: 955, y2: 972, stroke: '#444', 'stroke-width': 1.6}, ma);
  
  
  const l = mk('text', {x: lonX(v), y: 1002, 'text-anchor': 'middle', class: 't23'}, ma, fmt(v));
  
  
});
latTicks.forEach(v => {
  const t = mk('line', {x1: 1335, x2: 1351, y1: latY(v), y2: latY(v), stroke: '#444', 'stroke-width': 1.6}, ma);
  
  
  const l = mk('text', {x: 1323, y: latY(v) + 8, 'text-anchor': 'end', class: 't23'}, ma, fmt(v));
  
  
});
const latTitle = mk('text', {x: 1782, y: 1041, 'text-anchor': 'middle', class: 't27', textLength: 103}, ma, 'Latitude');


const lonTitle = mk('text', {transform: 'translate(1266,541) rotate(-90)', 'text-anchor': 'middle', class: 't27', textLength: 127}, ma, 'Longitude');



/* map marks */
const mm = document.getElementById('mapMarks');
rangeLon.forEach((lon, i) => {
  const cx = lonX(lon), cy = latY(rangeLat[i]);
  const e = mk('ellipse', {cx: cx, cy: cy, rx: rangeLonRadius[i] * 32.53, ry: rangeLatRadius[i] * 41.4, fill: 'none', stroke: '#231f20', 'stroke-width': 1.3, transform: 'rotate(' + rangeTilt[i] + ' ' + cx + ' ' + cy + ')'}, mm);
  
  
});
const lobed = mk('path', {d: smoothClosed(lobedRangeLon.map((lon, i) => [lonX(lon), latY(lobedRangeLat[i])])), fill: 'none', stroke: '#231f20', 'stroke-width': 1.3}, mm);


siteLon.forEach((lon, i) => {
  const x = lonX(lon), y = latY(siteLat[i]), r = 8.3;
  const s = mk('polygon', {points: [x, y - r, x + r, y, x, y + r, x - r, y].join(','), fill: '#231f20'}, mm);
  
  
});
[[14, 3, 'none', '#231f20'], [8.5, 1.8, 'none', '#231f20'], [4.2, 0, '#231f20', 'none']].forEach(a => {
  const o = mk('circle', {cx: lonX(originLon), cy: latY(originLat), r: a[0], 'stroke-width': a[1], fill: a[2], stroke: a[3]}, mm);
  
  
});

/* line chart */
const xOf = i => 192.9 + i * 38.84;
const yOf = v => 1487.3 - v * 35.52;
const lc = document.getElementById('lineChart');
const linePts = arr => arr.map((v, i) => xOf(i) + ',' + yOf(v)).join(' ');

yTicks.forEach((v, i) => {
  const t = mk('line', {x1: 102, x2: 117, y1: yOf(v), y2: yOf(v), stroke: '#58595b', 'stroke-width': 1.6}, lc);
  
  
  const l = mk('text', {x: 90, y: yOf(v) + 8, 'text-anchor': 'end', class: 't24'}, lc, yTickLabels[i]);
  
  
});
years.forEach((yr, i) => {
  if (i % 3 !== 0) return;
  const t = mk('line', {x1: xOf(i), x2: xOf(i), y1: 1825, y2: 1841, stroke: '#58595b', 'stroke-width': 1.6}, lc);
  
  
  const l = mk('text', {x: xOf(i), y: 1869, 'text-anchor': 'middle', class: 't23'}, lc, yr);
  
  
});

const band = mk('polygon', {points: linePts(swUpper) + ' ' + swLower.map((v, i) => xOf(i) + ',' + yOf(v)).reverse().join(' '), fill: '#c08672'}, lc);


[[swUpper, 'south-west-upper-bound'], [swLower, 'south-west-lower-bound']].forEach(s => {
  const d = mk('polyline', {points: linePts(s[0]), fill: 'none', stroke: '#8c1515', 'stroke-width': 4.4, 'stroke-dasharray': '4.4 8.6'}, lc);
  
  
});

const swLine = mk('polyline', {points: linePts(swMean), fill: 'none', stroke: '#8c1515', 'stroke-width': 8.5, 'stroke-linejoin': 'round'}, lc);


swMean.forEach((v, i) => {
  const p = mk('circle', {cx: xOf(i), cy: yOf(v), r: 7, fill: '#9e2a2a'}, lc);
  
  
});

const brLine = mk('polyline', {points: linePts(breeding), fill: 'none', stroke: '#6560ad', 'stroke-width': 8, 'stroke-linejoin': 'round'}, lc);


breeding.forEach((v, i) => {
  const p = mk('circle', {cx: xOf(i), cy: yOf(v), r: 7, fill: '#7470b8'}, lc);
  
  
});

const dfLine = mk('polyline', {points: linePts(difference), fill: 'none', stroke: '#d0d0d0', 'stroke-width': 8, 'stroke-linejoin': 'round'}, lc);


difference.forEach((v, i) => {
  const p = mk('circle', {cx: xOf(i), cy: yOf(v), r: 5.5, fill: '#404040', stroke: '#7a7a7a', 'stroke-width': 1.5}, lc);
  
  
  const l = mk('text', {x: xOf(i) + labelNudgeX[i], y: yOf(v) + labelNudgeY[i] + 6, 'text-anchor': 'middle', class: 'dl'}, lc, fmt(v));
  
  
});
</script>
</body>
</html>
